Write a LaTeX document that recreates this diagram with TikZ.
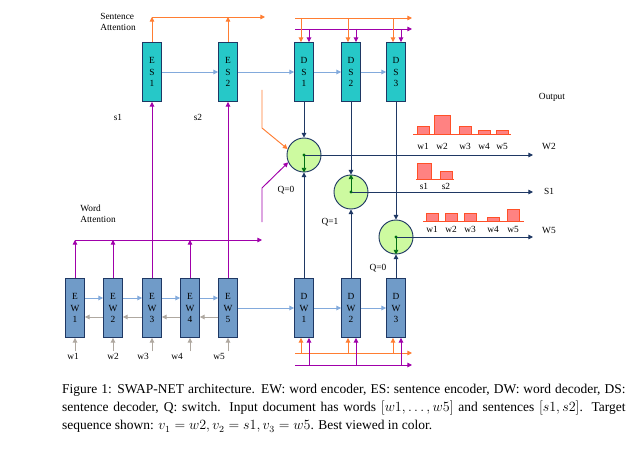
\documentclass[tikz,border=0pt]{standalone}
\usepackage{fontspec}
\setmainfont{Liberation Serif}
\usetikzlibrary{arrows.meta,positioning}
\definecolor{esc}{RGB}{38,200,200}
\definecolor{ewc}{RGB}{112,155,200}
\definecolor{navy}{RGB}{31,56,100}
\definecolor{orng}{RGB}{255,125,50}
\definecolor{purp}{RGB}{160,0,170}
\definecolor{lblu}{RGB}{130,170,220}
\definecolor{swc}{RGB}{205,250,160}
\definecolor{barf}{RGB}{255,130,130}
\definecolor{barl}{RGB}{255,80,40}
\definecolor{gryc}{RGB}{175,168,160}
\definecolor{dgrn}{RGB}{0,110,20}
\tikzset{
  box/.style={draw=navy,thick,minimum width=0.57cm,minimum height=1.77cm,align=center,inner sep=0pt,font=\footnotesize,text depth=0pt},
  sw/.style={draw=navy,thick,fill=swc,circle,minimum size=1.02cm,inner sep=0pt},
  lbl/.style={font=\footnotesize,inner sep=1pt},
  >={Triangle[length=4pt,width=4pt]}
}
\begin{document}
\begin{tikzpicture}[x=0.03cm,y=-0.03cm]
  \useasboundingbox (0,0) rectangle (635,451);

  \node[box,fill=esc] (ES1) at (152,72) {E\\S\\1};
  \node[box,fill=esc] (ES2) at (228,72) {E\\S\\2};
  \node[box,fill=esc] (DS1) at (304,72) {D\\S\\1};
  \node[box,fill=esc] (DS2) at (351,72) {D\\S\\2};
  \node[box,fill=esc] (DS3) at (396,72) {D\\S\\3};

  \node[box,fill=ewc] (EW1) at (75,308) {E\\W\\1};
  \node[box,fill=ewc] (EW2) at (113,308) {E\\W\\2};
  \node[box,fill=ewc] (EW3) at (152,308) {E\\W\\3};
  \node[box,fill=ewc] (EW4) at (190,308) {E\\W\\4};
  \node[box,fill=ewc] (EW5) at (228,308) {E\\W\\5};
  \node[box,fill=ewc] (DW1) at (304,308) {D\\W\\1};
  \node[box,fill=ewc] (DW2) at (351,308) {D\\W\\2};
  \node[box,fill=ewc] (DW3) at (396,308) {D\\W\\3};

  \node[sw] (Q1) at (304,155) {};
  \node[sw] (Q2) at (351,192) {};
  \node[sw] (Q3) at (396,237) {};

  \node[lbl] (w1) at (73,356) {w1};
  \node[lbl] (w2) at (113,356) {w2};
  \node[lbl] (w3) at (143,356) {w3};
  \node[lbl] (w4) at (177,356) {w4};
  \node[lbl] (w5) at (219,356) {w5};
  \node[lbl] (s1) at (118,117) {s1};
  \node[lbl] (s2) at (198,117) {s2};
  \node[lbl,align=left] (SeAt) at (118,22) {Sentence\\Attention};
  \node[lbl,align=left] (WoAt) at (98,214) {Word\\Attention};
  \node[lbl] (Qa) at (286,190) {Q=0};
  \node[lbl] (Qb) at (330,222) {Q=1};
  \node[lbl] (Qc) at (378,268) {Q=0};
  \node[lbl] (Out) at (552,97) {Output};
  \node[lbl] (W2) at (549,146) {W2};
  \node[lbl] (S1) at (549,191) {S1};
  \node[lbl] (W5) at (549,231) {W5};

  % sentence attention
  \coordinate (saL) at (152,17);
  \coordinate (saR) at (265,17);
  \draw[->,draw=orng,thick] (ES1) -- (saL);
  \draw[->,draw=orng,thick] (ES2.north) -- (ES2.north |- saL);
  \draw[->,draw=orng,thick] (saL) -- (saR);

  % decoder attention lines (top)
  \coordinate (toL) at (295,18);
  \coordinate (toR) at (412,18);
  \coordinate (tpL) at (295,29);
  \coordinate (tpR) at (412,29);
  \draw[->,draw=orng,thick] (toL) -- (toR);
  \draw[->,draw=purp,thick] (tpL) -- (tpR);
  \foreach \n in {DS1,DS2,DS3}{
    \draw[->,draw=orng,thick] ([xshift=-0.09cm]\n.north |- toL) -- ([xshift=-0.09cm]\n.north);
    \draw[->,draw=purp,thick] ([xshift=0.15cm]\n.north |- tpL) -- ([xshift=0.15cm]\n.north);
  }

  % decoder attention lines (bottom)
  \coordinate (boL) at (295,353);
  \coordinate (boR) at (412,353);
  \coordinate (bpL) at (295,365);
  \coordinate (bpR) at (412,365);
  \draw[->,draw=orng,thick] (boL) -- (boR);
  \draw[->,draw=purp,thick] (bpL) -- (bpR);
  \foreach \n in {DW1,DW2,DW3}{
    \draw[->,draw=orng,thick] ([xshift=-0.09cm]\n.south |- boL) -- ([xshift=-0.09cm]\n.south);
    \draw[->,draw=purp,thick] ([xshift=0.15cm]\n.south |- bpL) -- ([xshift=0.15cm]\n.south);
  }

  % recurrent links
  \draw[->,draw=lblu,thick] (ES1) -- (ES2);
  \draw[->,draw=lblu,thick] (ES2) -- (DS1);
  \draw[->,draw=lblu,thick] (DS1) -- (DS2);
  \draw[->,draw=lblu,thick] (DS2) -- (DS3);
  \draw[->,draw=lblu,thick] (EW5) -- (DW1);
  \draw[->,draw=lblu,thick] (DW1) -- (DW2);
  \draw[->,draw=lblu,thick] (DW2) -- (DW3);
  \foreach \a/\b in {EW1/EW2,EW2/EW3,EW3/EW4,EW4/EW5}{
    \draw[->,draw=lblu,thick] ([yshift=0.3cm]\a.east) -- ([yshift=0.3cm]\b.west);
    \draw[->,draw=gryc,thick] ([yshift=-0.27cm]\b.west) -- ([yshift=-0.27cm]\a.east);
  }

  % word inputs
  \draw[->,draw=gryc,thick] (w1.north -| EW1) -- (EW1);
  \draw[->,draw=gryc,thick] (w2.north -| EW2) -- (EW2);
  \draw[->,draw=gryc,thick] (w3.north -| EW3) -- (EW3);
  \draw[->,draw=gryc,thick] (w4.north -| EW4) -- (EW4);
  \draw[->,draw=gryc,thick] (w5.north -| EW5) -- (EW5);

  % word attention
  \coordinate (waL) at (75,240);
  \coordinate (waR) at (262,240);
  \draw[->,draw=purp,thick] (waL) -- (waR);
  \draw[->,draw=purp,thick] (EW1) -- (waL);
  \draw[->,draw=purp,thick] (EW2.north) -- (EW2.north |- waL);
  \draw[->,draw=purp,thick] (EW4.north) -- (EW4.north |- waL);
  \draw[->,draw=purp,thick] (EW3) -- (ES1);
  \draw[->,draw=purp,thick] (EW5) -- (ES2);

  % inputs to the first switch
  \coordinate (oin) at (262,90);
  \coordinate (pin) at (262,222);
  \draw[->,draw=orng,thick] (oin) -- (262,128) -- (Q1.160);
  \draw[->,draw=purp,thick] (pin) -- (262,188) -- (Q1.205);

  % decoder to switches
  \draw[->,draw=navy,thick] (DS1) -- (Q1);
  \draw[->,draw=navy,thick] (DS2) -- (Q2);
  \draw[->,draw=navy,thick] (DS3) -- (Q3);
  \draw[->,draw=navy,thick] (DW1) -- (Q1);
  \draw[->,draw=navy,thick] (DW2) -- (Q2);
  \draw[->,draw=navy,thick] (DW3) -- (Q3);

  % switch states and outputs
  \coordinate (oW2) at (533,155);
  \coordinate (oS1) at (533,192);
  \coordinate (oW5) at (533,237);
  \draw[->,draw=navy,thick] (Q1.center) -- (oW2);
  \draw[->,draw=navy,thick] (Q2.center) -- (oS1);
  \draw[->,draw=navy,thick] (Q3.center) -- (oW5);
  \draw[->,draw=dgrn,thick] (Q1.center) -- (Q1.south);
  \draw[->,draw=dgrn,thick] (Q2.center) -- (Q2.north);
  \draw[->,draw=dgrn,thick] (Q3.center) -- (Q3.south);
  \fill[dgrn] (Q1.center) circle (1.3pt) (Q2.center) circle (1.3pt) (Q3.center) circle (1.3pt);

  % output distributions
  \foreach \xa/\xb/\h/\t in {417/429/8/w1,434/450/19/w2,459/471/8/w3,478/490/4/w4,496/508/4/w5}{
    \draw[draw=barl,fill=barf,thick] (\xa,134) rectangle (\xb,134-\h);
    \node[lbl] at ({(\xa+\xb)/2},146) {\t};
  }
  \draw[draw=barl,thick] (413,134) -- (511,134);
  \foreach \xa/\xb/\h/\t in {417/431/16/s1,440/452/8/s2}{
    \draw[draw=barl,fill=barf,thick] (\xa,179) rectangle (\xb,179-\h);
    \node[lbl] at ({(\xa+\xb)/2},186) {\t};
  }
  \draw[draw=barl,thick] (416,179) -- (454,179);
  \foreach \xa/\xb/\h/\t in {426/438/8/w1,445/457/8/w2,464/476/8/w3,487/499/4/w4,507/519/12/w5}{
    \draw[draw=barl,fill=barf,thick] (\xa,221) rectangle (\xb,221-\h);
    \node[lbl] at ({(\xa+\xb)/2},229) {\t};
  }
  \draw[draw=barl,thick] (423,221) -- (524,221);

  \node[anchor=north west,text width=16.9cm,align=justify,inner sep=0pt,font=\fontsize{11.5}{15.5}\selectfont] (Cap) at (62,384)
    {Figure 1: SWAP-NET architecture. EW: word encoder, ES: sentence encoder, DW: word decoder, DS: sentence decoder, Q: switch. Input document has words $[w1,\ldots,w5]$ and sentences $[s1,s2]$. Target sequence shown: $v_1=w2, v_2=s1, v_3=w5$. Best viewed in color.};
\end{tikzpicture}
\end{document}
